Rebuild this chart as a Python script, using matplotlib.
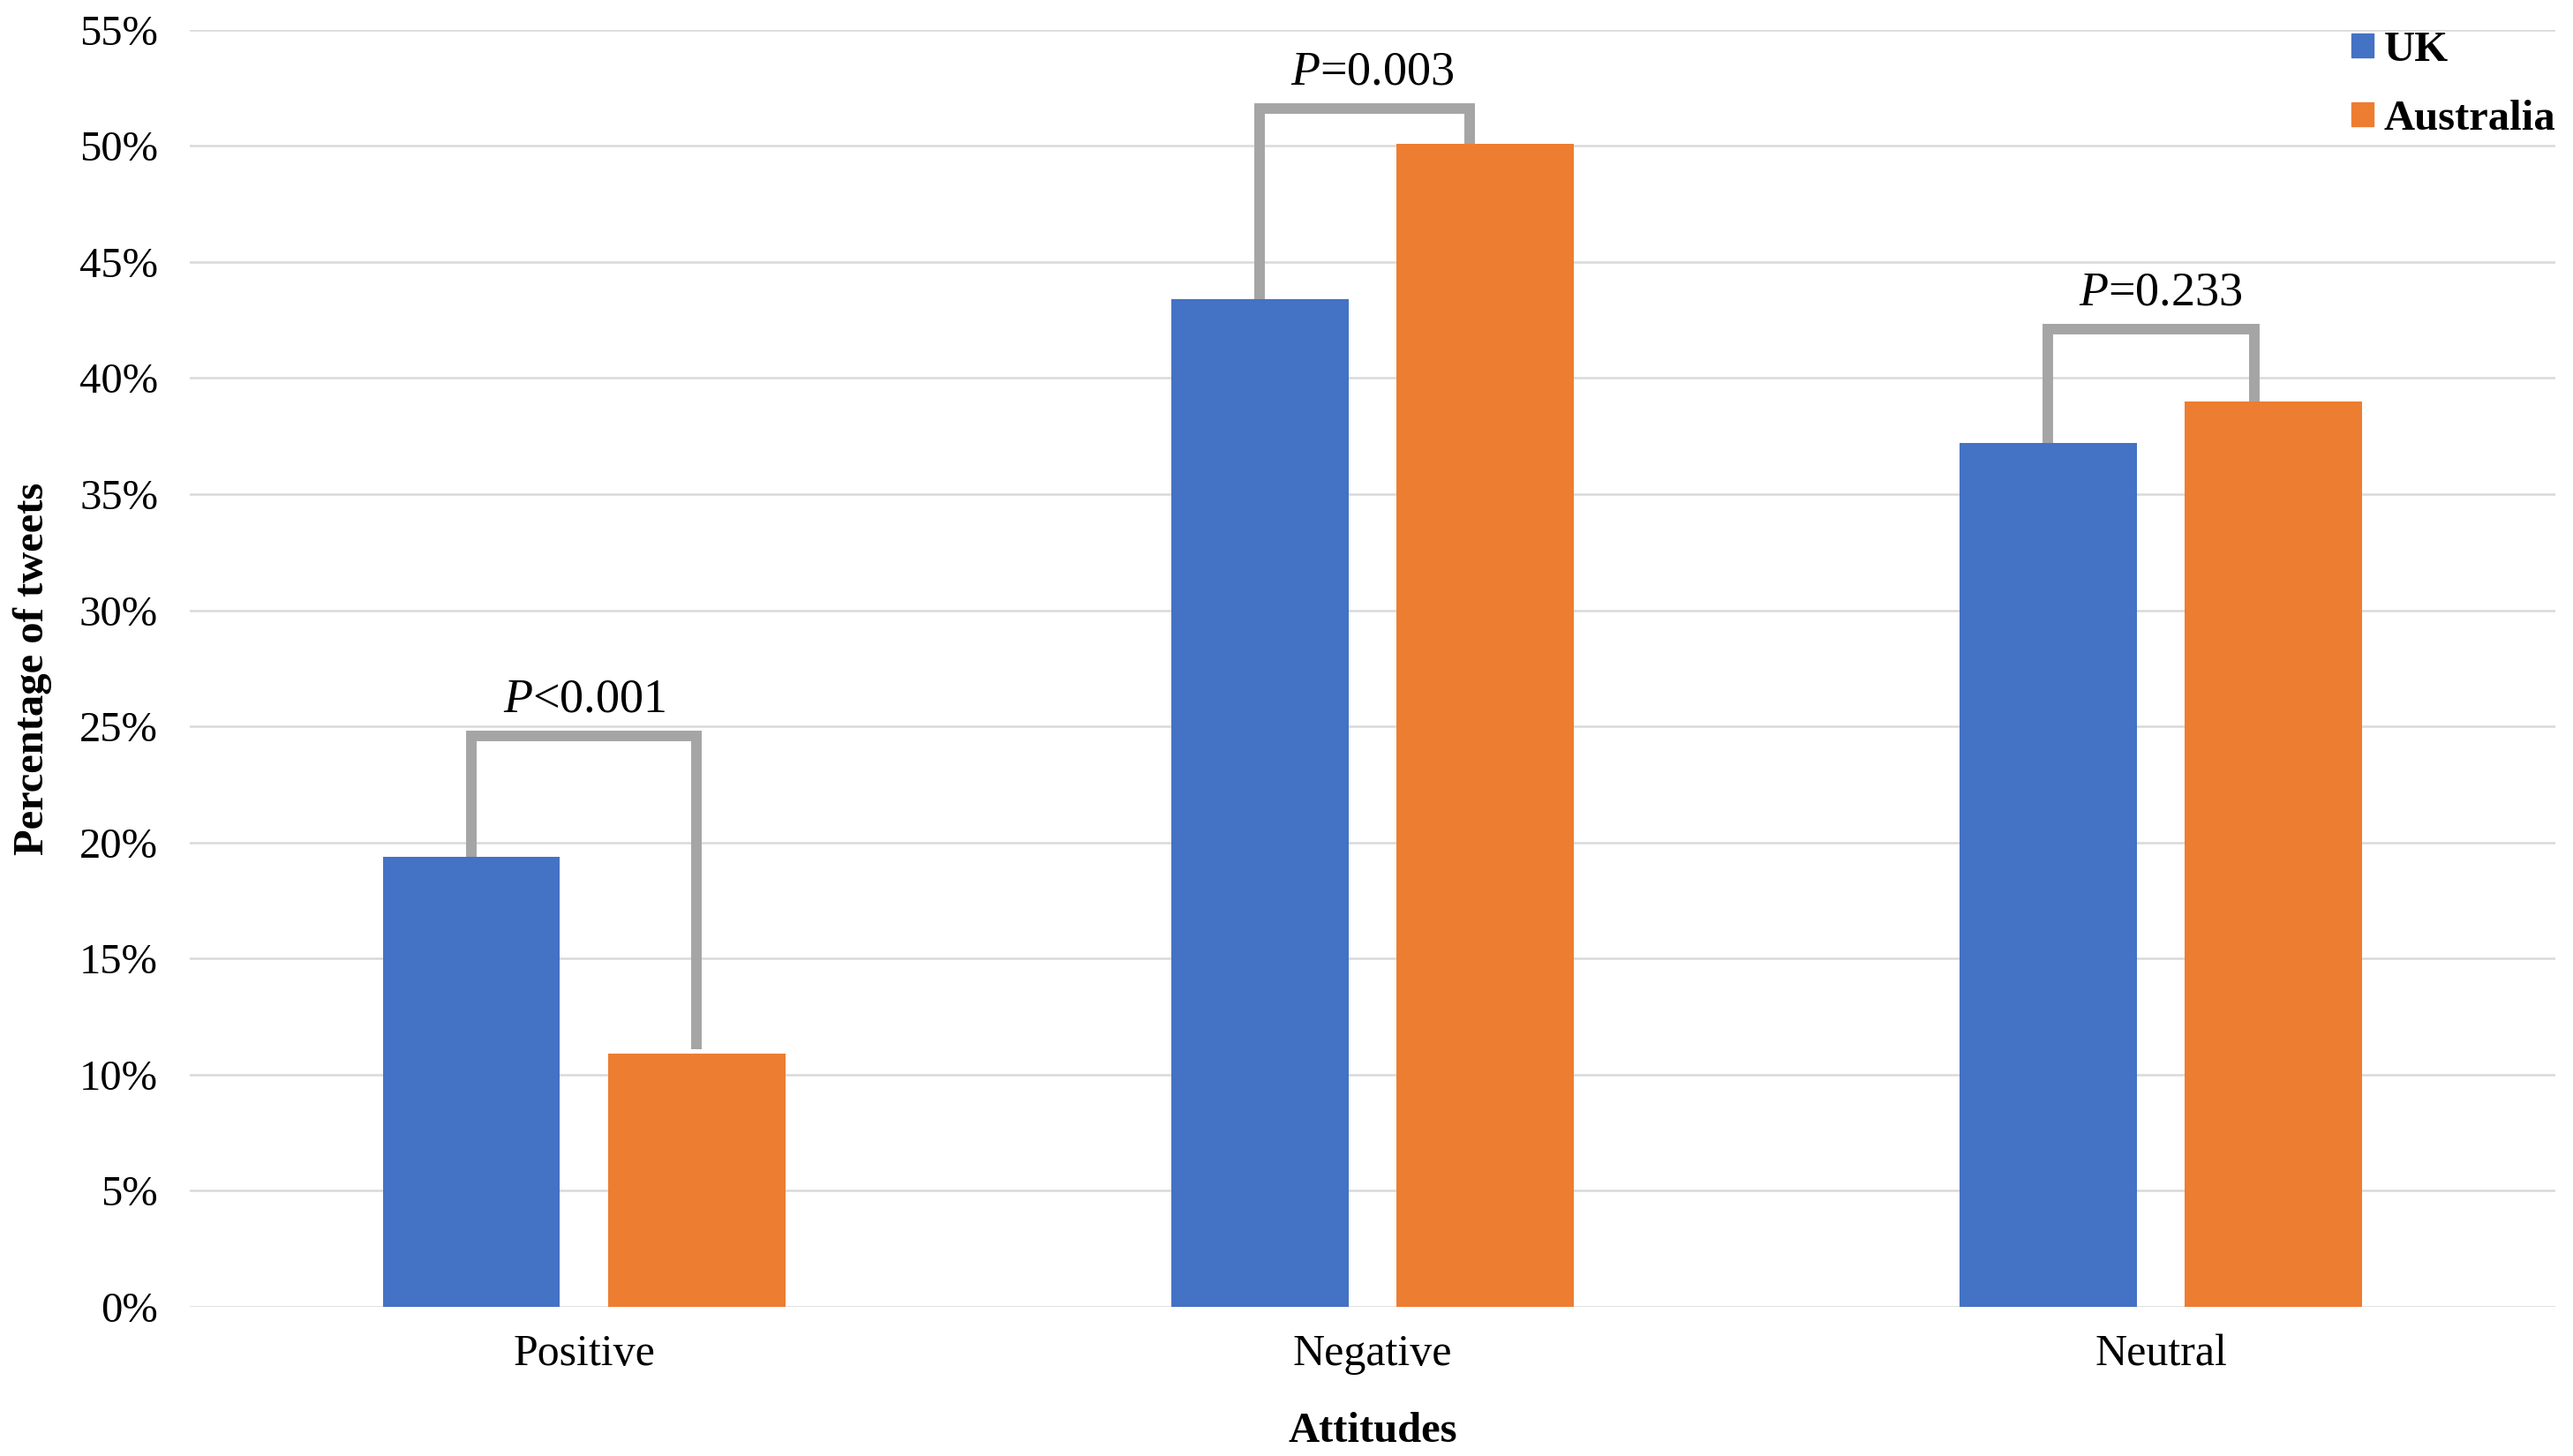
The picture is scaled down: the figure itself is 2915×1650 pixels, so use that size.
import matplotlib
matplotlib.use("Agg")
import matplotlib.pyplot as plt
from matplotlib.patches import Patch
import numpy as np

plt.rcParams["font.family"] = "Liberation Serif"
plt.rcParams["mathtext.fontset"] = "custom"
plt.rcParams["mathtext.rm"] = "Liberation Serif"
plt.rcParams["mathtext.it"] = "Liberation Serif:italic"

# data (percent of tweets)
categories = ["Positive", "Negative", "Neutral"]
uk = [19.4, 43.4, 37.2]
australia = [10.9, 50.1, 39.0]
p_labels = [r"$\mathit{P}$<0.001", r"$\mathit{P}$=0.003", r"$\mathit{P}$=0.233"]
bracket_tops = [24.6, 51.6, 42.1]
bracket_right_ends = [11.1, 50.1, 39.0]
yticks = [0, 5, 10, 15, 20, 25, 30, 35, 40, 45, 50, 55]

blue = "#4472C4"
orange = "#ED7D31"
grey = "#A5A5A5"

fig = plt.figure(figsize=(29.15, 16.5), dpi=100)
ax = fig.add_axes([0.0738, 0.1024, 0.9192, 0.8772])

x = np.arange(len(categories))
w = 0.225
off = 0.143
right_leg_shift = [0.0, -0.02, -0.024]

ax.bar(x - off, uk, w, color=blue, zorder=2)
ax.bar(x + off, australia, w, color=orange, zorder=2)

# significance brackets
for i in range(len(categories)):
    xl = x[i] - off
    xr = x[i] + off + right_leg_shift[i]
    top = bracket_tops[i]
    ax.plot([xl, xl, xr, xr], [uk[i], top, top, bracket_right_ends[i]],
            color=grey, lw=8.6, solid_joinstyle="miter", solid_capstyle="butt",
            zorder=3)
    ax.text(x[i], top + 1.55, p_labels[i], ha="center", va="center", fontsize=39)

ax.set_xlim(-0.5, 2.5)
ax.set_ylim(0, 55)
ax.set_yticks(yticks)
ax.set_yticklabels([f"{t}%" for t in yticks], fontsize=35)
ax.set_xticks(x)
ax.set_xticklabels(categories, fontsize=36)
ax.tick_params(length=0)
ax.tick_params(axis="y", pad=26)
ax.tick_params(axis="x", pad=22)
ax.yaxis.grid(True, color="#D9D9D9", lw=1.8, zorder=0)
ax.set_axisbelow(True)
for s in ax.spines.values():
    s.set_visible(False)

ax.set_xlabel("Attitudes", fontsize=35, fontweight="bold", labelpad=30)
ax.set_ylabel("Percentage of tweets", fontsize=35, fontweight="bold", labelpad=22)

handles = [Patch(color=blue, label="UK"), Patch(color=orange, label="Australia")]
leg = fig.legend(handles=handles, loc="upper left", bbox_to_anchor=(0.914, 0.979),
                 frameon=False, handlelength=0.5, handleheight=0.5,
                 handletextpad=0.25, labelspacing=0.7, borderpad=0,
                 borderaxespad=0, prop={"family": "Liberation Serif",
                                        "weight": "bold", "size": 35})

fig.savefig("out.png", dpi=100)
